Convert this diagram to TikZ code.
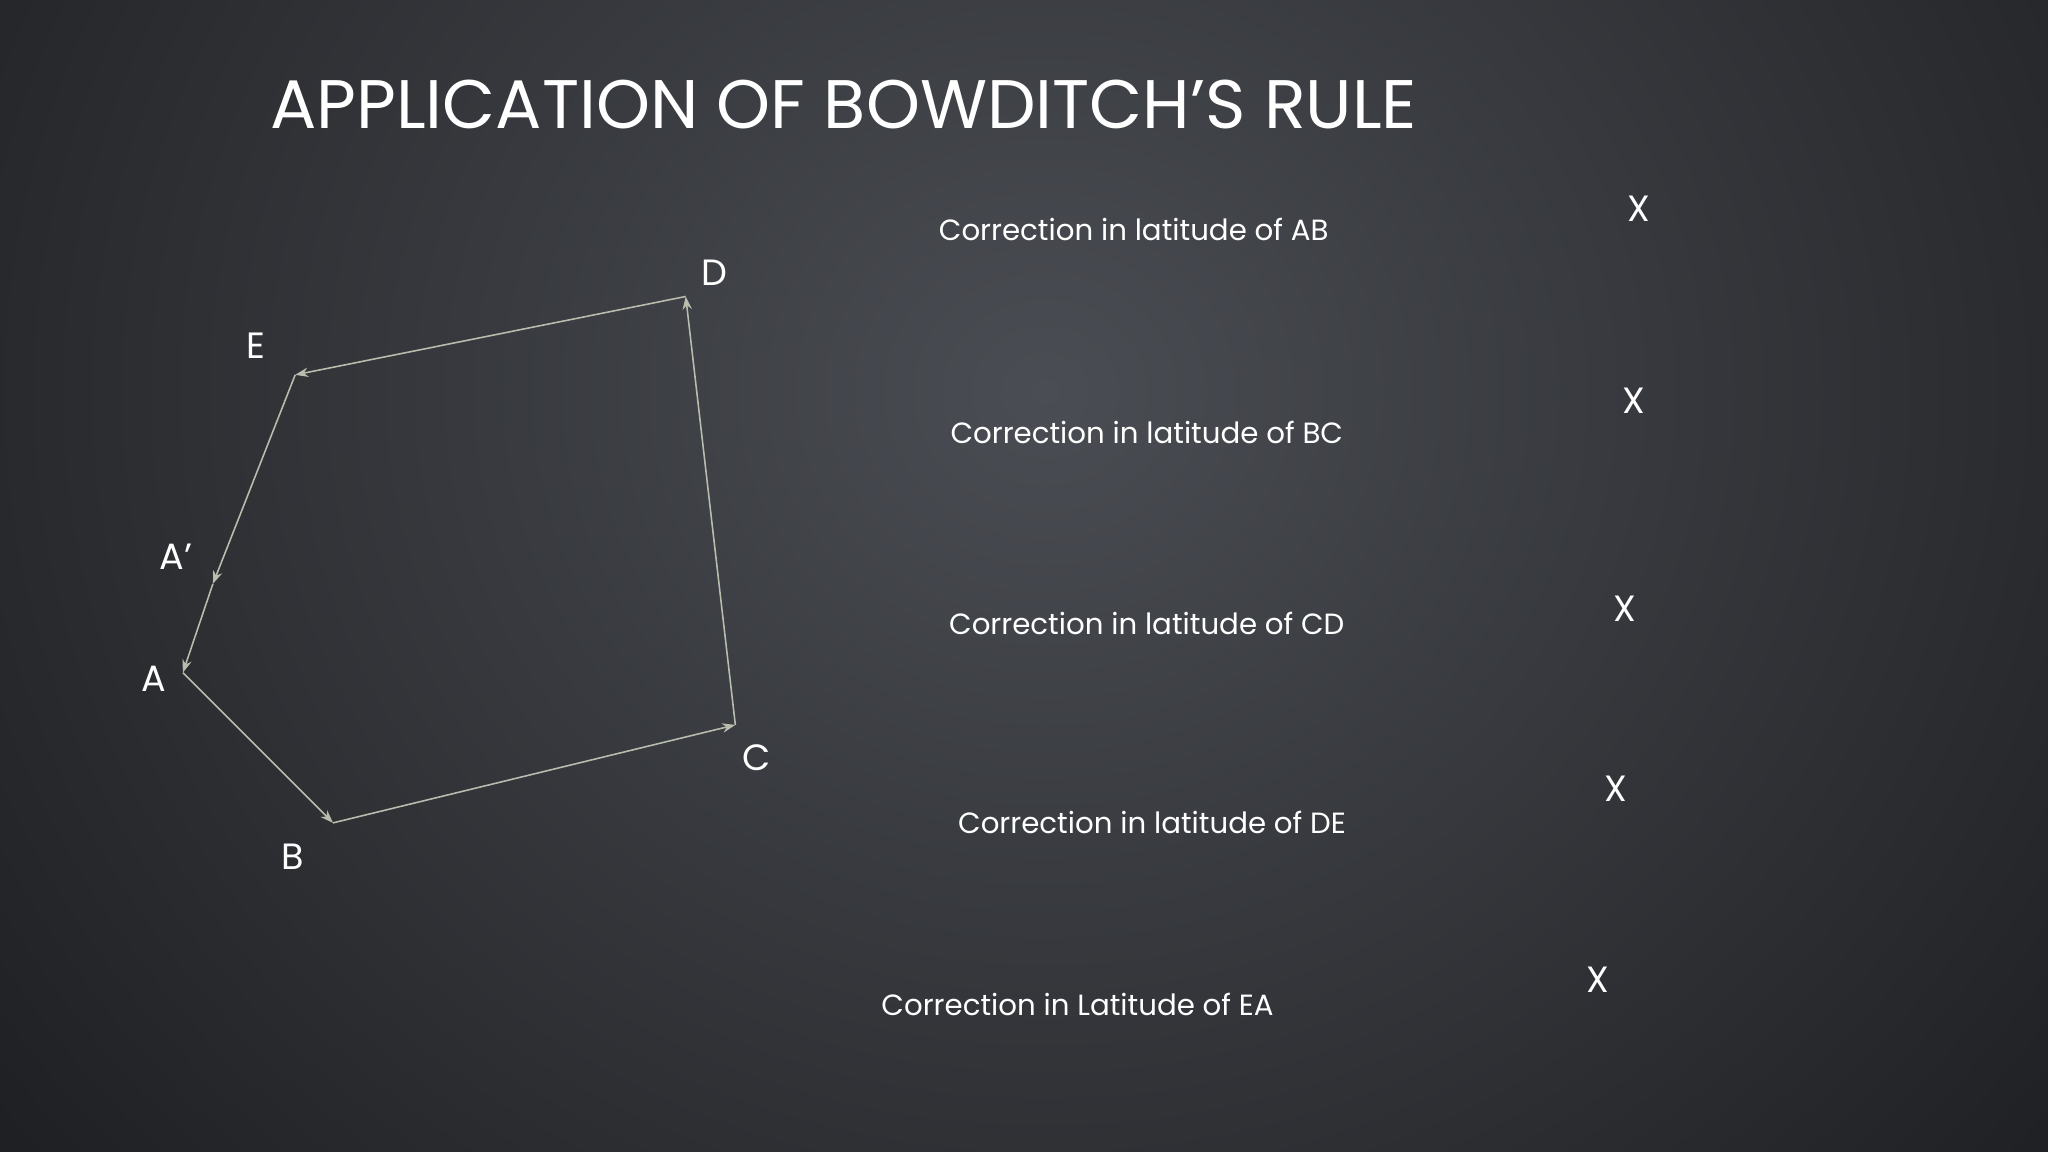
\documentclass[tikz,border=0pt]{standalone}
\usepackage{fontspec}
\setmainfont{Poppins}
\usetikzlibrary{arrows.meta}
\definecolor{bgdark}{HTML}{1B1C1F}
\definecolor{bglight}{HTML}{4A4D53}
\definecolor{edge}{HTML}{B9BDAE}
\tikzset{
  pt/.style={text=white,font=\fontsize{14}{16}\selectfont},
  lab/.style={text=white,font=\fontsize{11.2}{13}\selectfont},
  ex/.style={text=white,font=\fontsize{14}{16}\selectfont},
  side/.style={draw=edge,line width=0.6pt,-{Stealth[length=5pt,width=3.6pt]}}
}
\begin{document}
\begin{tikzpicture}[x=0.5pt,y=-0.5pt]
\useasboundingbox (0,0) rectangle (1568,882);
\fill[bgdark] (0,0) rectangle (1568,882);
\shade[inner color=bglight,outer color=bgdark] (-300,-700) rectangle (1900,1300);
\node[anchor=west,text=white,font=\fontsize{26.3}{30}\selectfont] (title) at (200,80) {APPLICATION OF BOWDITCH’S RULE};
\coordinate (A) at (140,515);
\coordinate (B) at (255,630);
\coordinate (C) at (563,555);
\coordinate (D) at (525,227);
\coordinate (E) at (226,287);
\coordinate (Ap) at (163,447);
\draw[side] (A) -- (B);
\draw[side] (B) -- (C);
\draw[side] (C) -- (D);
\draw[side] (D) -- (E);
\draw[side] (E) -- (Ap);
\draw[side] (Ap) -- (A);
\node[pt] (lA) at (118,520) {A};
\node[pt] (lB) at (224,656) {B};
\node[pt] (lC) at (579,580) {C};
\node[pt] (lD) at (547,209) {D};
\node[pt] (lE) at (196,265) {E};
\node[pt] (lAp) at (135,426) {A’};
\node[lab] (t1) at (868,176) {Correction in latitude of AB};
\node[lab] (t2) at (878,331) {Correction in latitude of BC};
\node[lab] (t3) at (878,477) {Correction in latitude of CD};
\node[lab] (t4) at (882,630) {Correction in latitude of DE};
\node[lab] (t5) at (825,769) {Correction in Latitude of EA};
\node[ex] (x1) at (1255,160) {X};
\node[ex] (x2) at (1251,307) {X};
\node[ex] (x3) at (1244,466) {X};
\node[ex] (x4) at (1237,604) {X};
\node[ex] (x5) at (1223,750) {X};
\end{tikzpicture}
\end{document}
